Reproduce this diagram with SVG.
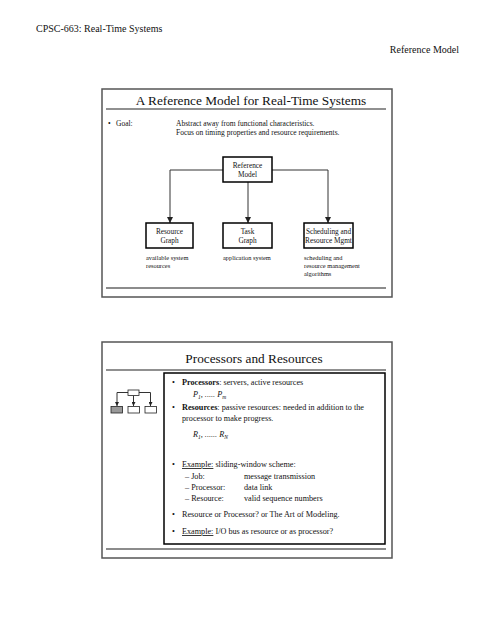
<svg xmlns="http://www.w3.org/2000/svg" width="495" height="640" viewBox="0 0 495 640">
<style>
text{font-family:"Liberation Serif","Times New Roman",serif;fill:#111}
.hdr{font-size:10px}
.ttl{font-size:13.3px;text-anchor:middle}
.goal{font-size:7.5px}
.bx{fill:#fff;stroke:#000;stroke-width:1.5}
.bt{font-size:7.3px;text-anchor:middle}
.cap{font-size:6.4px}
.frame{fill:#fff;stroke:#555;stroke-width:1.5}
.rule{stroke:#222;stroke-width:1.2}
.brule{stroke:#666;stroke-width:1.5}
.con{fill:none;stroke:#333;stroke-width:1}
.b2{font-size:8.2px}
.ic{fill:#fff;stroke:#222;stroke-width:0.8}
</style>
<defs>
<marker id="ah" viewBox="0 0 10 10" refX="10" refY="5" markerWidth="6" markerHeight="6" orient="auto" markerUnits="userSpaceOnUse">
<path d="M0,0 L10,5 L0,10 z" fill="#222"/>
</marker>
<marker id="ahs" viewBox="0 0 10 10" refX="10" refY="5" markerWidth="4" markerHeight="4" orient="auto" markerUnits="userSpaceOnUse">
<path d="M0,0 L10,5 L0,10 z" fill="#222"/>
</marker>
</defs>
<rect width="495" height="640" fill="#fff"/>
<text class="hdr" x="36" y="32">CPSC-663: Real-Time Systems</text>
<text class="hdr" x="459" y="53" text-anchor="end">Reference Model</text>

<!-- Slide 1 -->
<g id="slide1">
<rect class="frame" x="102" y="89" width="290" height="208"/>
<text class="ttl" x="251" y="104.5">A Reference Model for Real-Time Systems</text>
<line class="rule" x1="106" y1="109" x2="386" y2="109"/>
<text class="goal" x="108" y="126">•</text>
<text class="goal" x="116" y="126">Goal:</text>
<text class="goal" x="176" y="126">Abstract away from functional characteristics.</text>
<text class="goal" x="176" y="135">Focus on timing properties and resource requirements.</text>
<line class="brule" x1="106" y1="288" x2="386" y2="288"/>
</g>

<g id="connectors">
<path class="con" d="M223,170 H170 V223" marker-end="url(#ah)"/>
<path class="con" d="M248,182 V223" marker-end="url(#ah)"/>
<path class="con" d="M272,170 H328 V223" marker-end="url(#ah)"/>
</g>

<g id="reference-model">
<rect class="bx" x="223" y="157" width="49" height="25"/>
<text class="bt" x="247.5" y="167.5">Reference</text>
<text class="bt" x="247.5" y="176.5">Model</text>
</g>
<g id="resource-graph">
<rect class="bx" x="146" y="223" width="47" height="25"/>
<text class="bt" x="169.5" y="233.5">Resource</text>
<text class="bt" x="169.5" y="242.5">Graph</text>
<text class="cap" x="146" y="260">available system</text>
<text class="cap" x="146" y="268">resources</text>
</g>
<g id="task-graph">
<rect class="bx" x="223" y="223" width="49" height="25"/>
<text class="bt" x="247.5" y="233.5">Task</text>
<text class="bt" x="247.5" y="242.5">Graph</text>
<text class="cap" x="223" y="260">application system</text>
</g>
<g id="scheduling">
<rect class="bx" x="304" y="223" width="49" height="25"/>
<text class="bt" x="328.5" y="233.5">Scheduling and</text>
<text class="bt" x="328.5" y="242.5">Resource Mgmt</text>
<text class="cap" x="304" y="260">scheduling and</text>
<text class="cap" x="304" y="268">resource management</text>
<text class="cap" x="304" y="276">algorithms</text>
</g>

<!-- Slide 2 -->
<g id="slide2">
<rect class="frame" x="102" y="342" width="290" height="216"/>
<text class="ttl" x="254" y="363">Processors and Resources</text>
<line class="rule" x1="106" y1="370" x2="386" y2="370"/>
<rect class="bx" x="164" y="373" width="221" height="171"/>
<line class="brule" x1="106" y1="549" x2="386" y2="549"/>
</g>

<g id="icon">
<path class="con" d="M128,392.5 H117 V406" marker-end="url(#ahs)" stroke-width="0.8"/>
<path class="con" d="M133.5,395.5 V406" marker-end="url(#ahs)" stroke-width="0.8"/>
<path class="con" d="M139,392.5 H150.5 V406" marker-end="url(#ahs)" stroke-width="0.8"/>
<rect class="ic" x="128" y="390" width="11" height="5.5"/>
<rect class="ic" x="111" y="406.5" width="11.5" height="6.5" style="fill:#999"/>
<rect class="ic" x="128" y="406.5" width="11.5" height="6.5"/>
<rect class="ic" x="145" y="406.5" width="11.5" height="6.5"/>
</g>

<g id="slide2-text">
<text class="b2" x="172" y="385">•</text>
<text class="b2" x="182" y="385"><tspan font-weight="bold">Processors</tspan>: servers, active resources</text>
<text class="b2" x="193" y="397" font-style="italic">P<tspan font-size="5.5" dy="2">1</tspan><tspan dy="-2">, ..... P</tspan><tspan font-size="5.5" dy="2">m</tspan></text>
<text class="b2" x="172" y="410">•</text>
<text class="b2" x="182" y="410"><tspan font-weight="bold">Resources</tspan>: passive resources: needed in addition to the</text>
<text class="b2" x="182" y="421">processor to make progress.</text>
<text class="b2" x="193" y="437" font-style="italic">R<tspan font-size="5.5" dy="2">1</tspan><tspan dy="-2">, ...... R</tspan><tspan font-size="5.5" dy="2">N</tspan></text>
<text class="b2" x="172" y="467">•</text>
<text class="b2" x="182" y="467"><tspan text-decoration="underline">Example:</tspan> sliding-window scheme:</text>
<text class="b2" x="185" y="478.5">–  Job:</text>
<text class="b2" x="244" y="478.5">message transmission</text>
<text class="b2" x="185" y="489.5">–  Processor:</text>
<text class="b2" x="244" y="489.5">data link</text>
<text class="b2" x="185" y="500.5">–  Resource:</text>
<text class="b2" x="244" y="500.5">valid sequence numbers</text>
<text class="b2" x="172" y="517">•</text>
<text class="b2" x="182" y="517">Resource or Processor?  or  The Art of Modeling.</text>
<text class="b2" x="172" y="534">•</text>
<text class="b2" x="182" y="534"><tspan text-decoration="underline">Example:</tspan> I/O bus as resource or as processor?</text>
</g>
</svg>
